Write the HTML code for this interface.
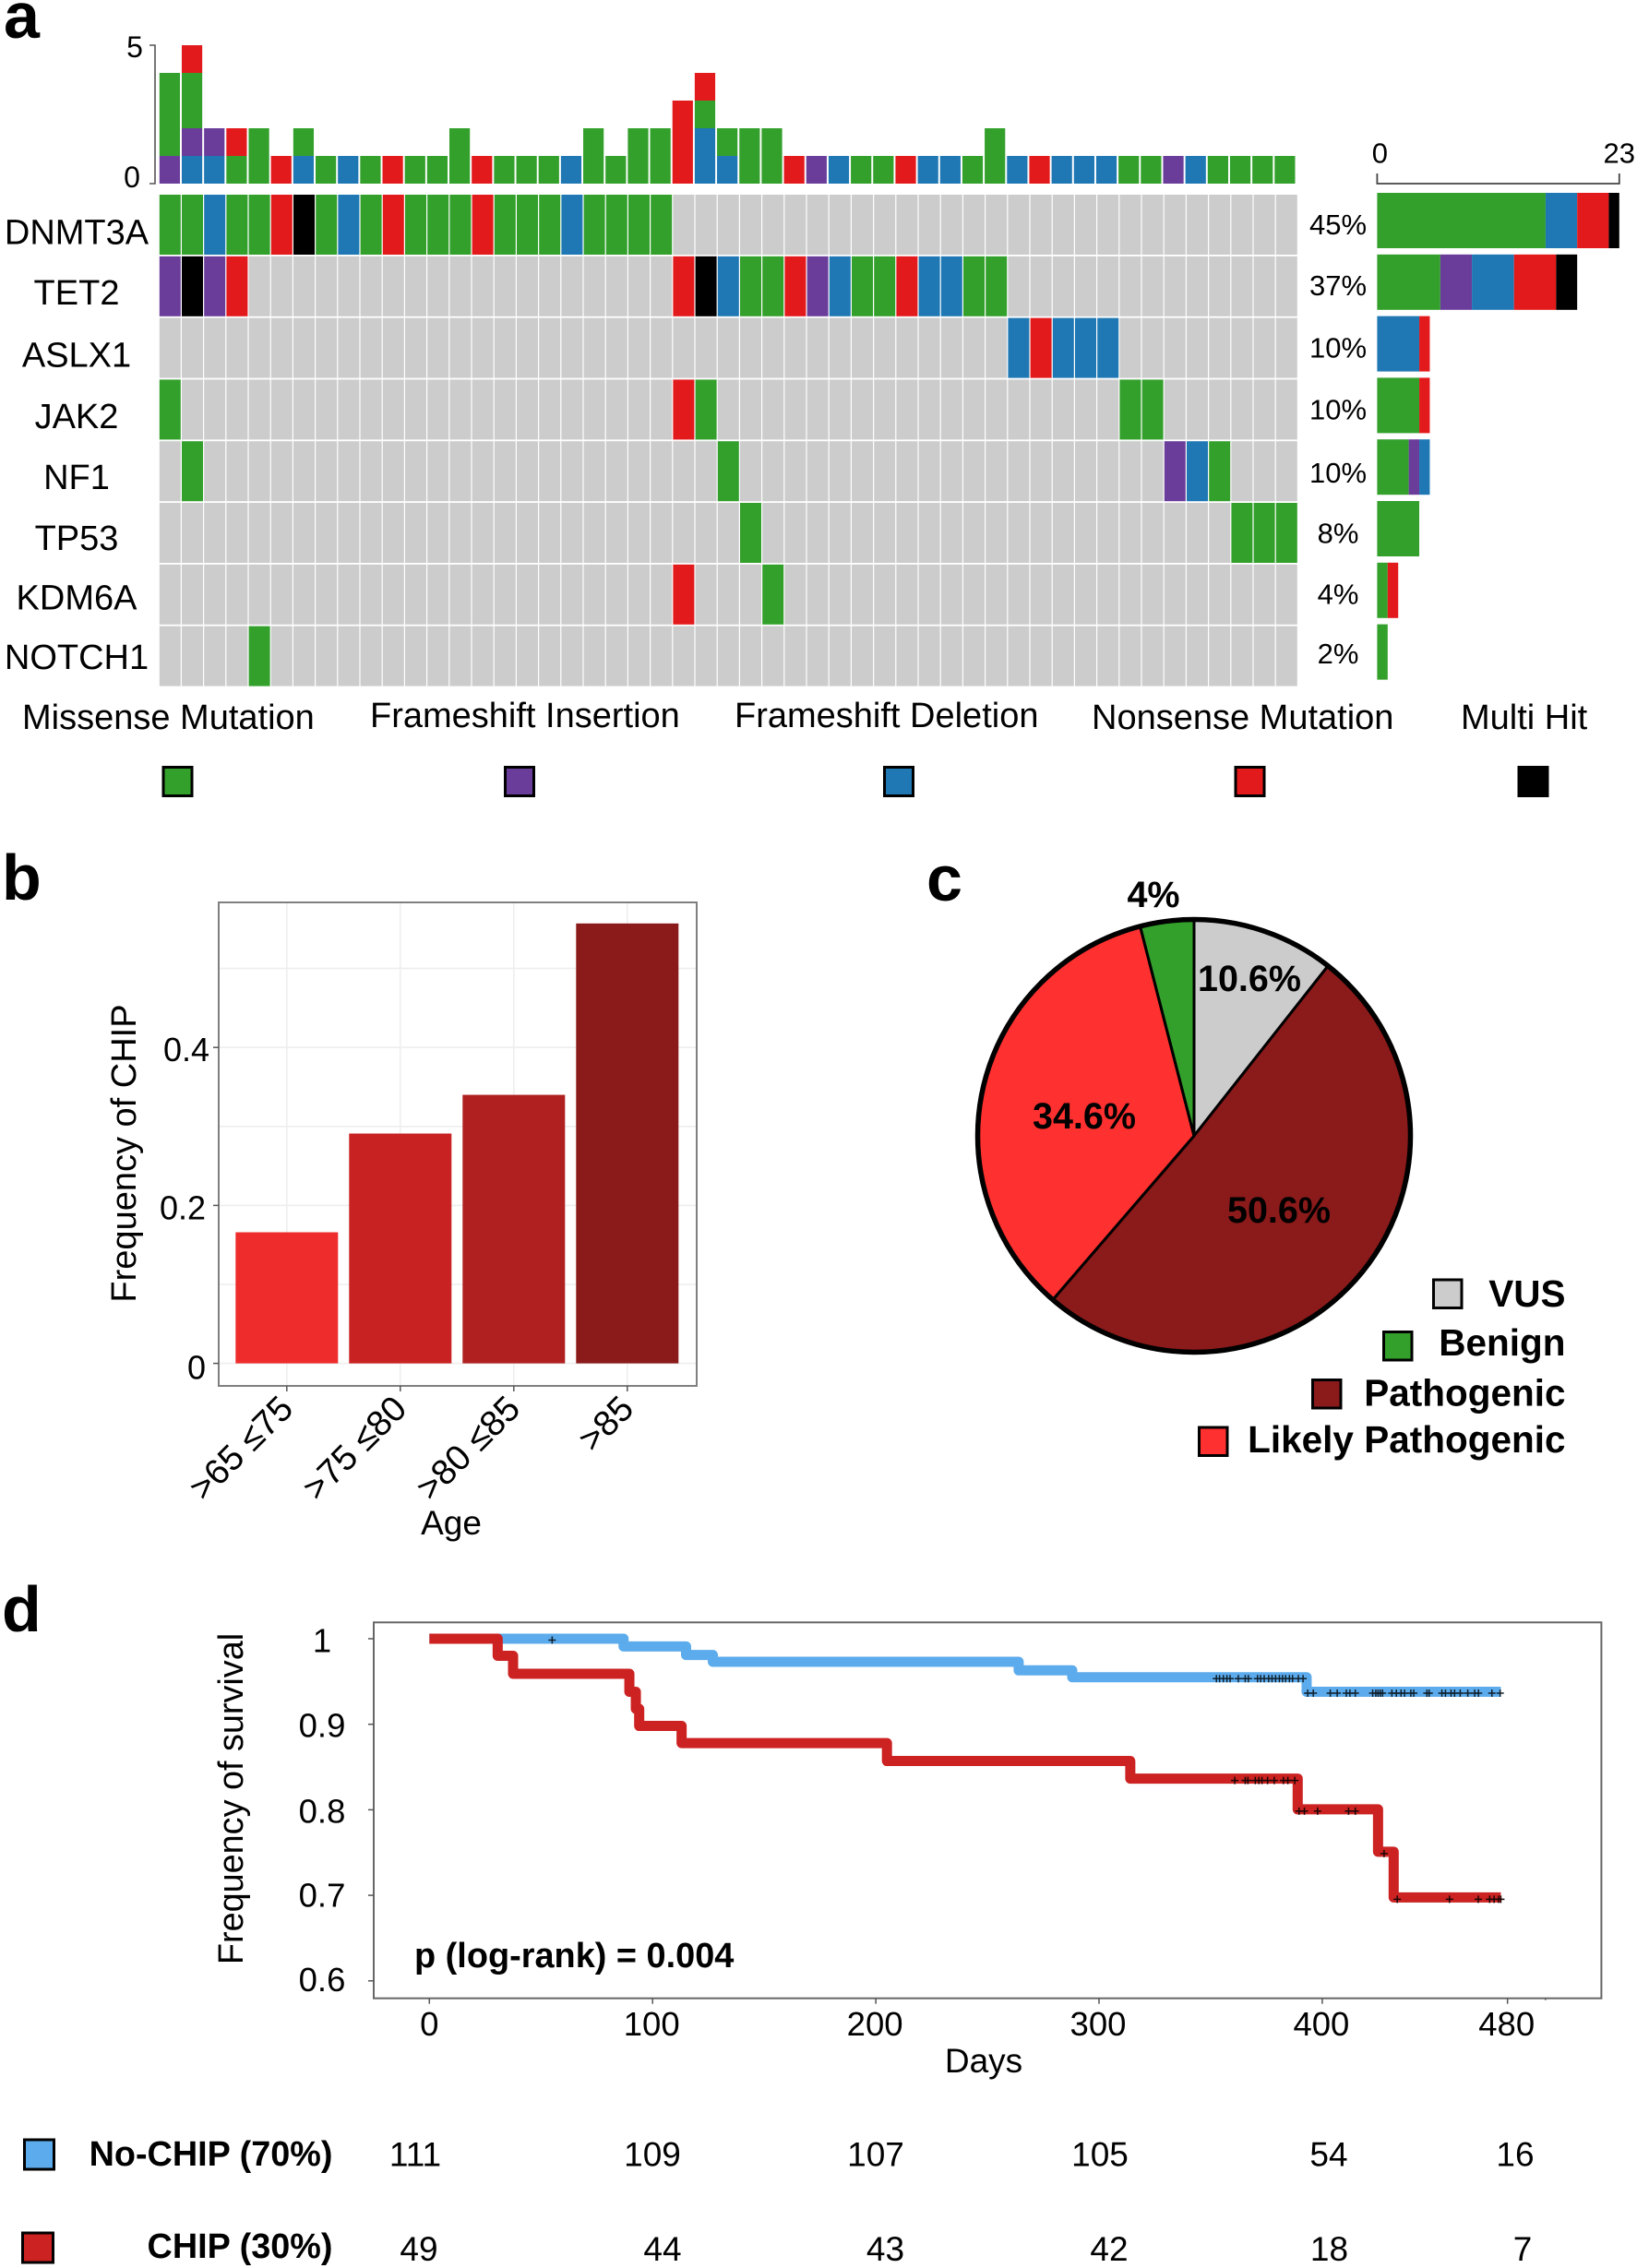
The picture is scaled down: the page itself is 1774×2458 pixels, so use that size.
<!DOCTYPE html>
<html lang="en">
<head>
<meta charset="utf-8">
<title>CHIP mutation landscape figure</title>
<style>
  html, body { margin: 0; padding: 0; background: #fff; }
  svg { display: block; }
  text { font-family: "Liberation Sans", sans-serif; fill: #000; }
  .b { font-weight: bold; }
</style>
</head>
<body>
<svg id="figure" xmlns="http://www.w3.org/2000/svg" width="1774" height="2458" viewBox="0 0 1774 2458">
  <rect x="0" y="0" width="1774" height="2458" fill="#fff"/>

  <text class="b" x="4" y="41" font-size="70">a</text>
  <text class="b" x="2" y="975" font-size="70">b</text>
  <text class="b" x="1004" y="976" font-size="70">c</text>
  <text class="b" x="2" y="1768" font-size="70">d</text>

  <g id="panel-a"></g>
  <g font-size="38">
    <text x="24" y="790">Missense Mutation</text>
    <text x="401" y="788">Frameshift Insertion</text>
    <text x="796" y="788">Frameshift Deletion</text>
    <text x="1183" y="790">Nonsense Mutation</text>
    <text x="1583" y="790">Multi Hit</text>
    <rect x="177" y="831.5" width="31" height="31" fill="#33a02c" stroke="#000" stroke-width="3"/>
    <rect x="547.5" y="831.5" width="31" height="31" fill="#6a3d9a" stroke="#000" stroke-width="3"/>
    <rect x="958.5" y="831.5" width="31" height="31" fill="#1f78b4" stroke="#000" stroke-width="3"/>
    <rect x="1339" y="831.5" width="31" height="31" fill="#e31a1c" stroke="#000" stroke-width="3"/>
    <rect x="1646" y="831.5" width="31" height="31" fill="#000" stroke="#000" stroke-width="3"/>
  </g>

  <g id="panel-b"></g>
  <text transform="translate(147 1250) rotate(-90)" text-anchor="middle" font-size="38">Frequency of CHIP</text>
  <text x="489" y="1663" text-anchor="middle" font-size="37">Age</text>

  <g id="panel-c"></g>

  <g id="panel-d"></g>
  <text transform="translate(263 1949.5) rotate(-90)" text-anchor="middle" font-size="37.8">Frequency of survival</text>
  <text x="1066" y="2246" text-anchor="middle" font-size="37">Days</text>
  <text class="b" x="449" y="2132" font-size="37.9">p (log-rank) = 0.004</text>

  <g id="risk-table"></g>
  <rect x="26.5" y="2319" width="32" height="32" fill="#5cabec" stroke="#000" stroke-width="3"/>
  <rect x="24.5" y="2420" width="33" height="32" fill="#cc2222" stroke="#000" stroke-width="3"/>
  <text class="b" x="360.5" y="2347" text-anchor="end" font-size="37.8">No-CHIP (70%)</text>
  <text class="b" x="360.5" y="2447" text-anchor="end" font-size="37.8">CHIP (30%)</text>
</svg>

<script>
/* ---------- Panel a data ---------- */
const genes = ['DNMT3A', 'TET2', 'ASLX1', 'JAK2', 'NF1', 'TP53', 'KDM6A', 'NOTCH1'];
const genePercents = ['45%', '37%', '10%', '10%', '10%', '8%', '4%', '2%'];
const hitsDNMT3A = [[0, 'GGBGGRKGBGRGGGRGGGBGGGG']];
const hitsTET2 = [[0, 'PKPR'], [23, 'RKBGGRPBGGRBBGG']];
const hitsASLX1 = [[38, 'BRBBB']];
const hitsJAK2 = [[0, 'G'], [23, 'RG'], [43, 'GG']];
const hitsNF1 = [[1, 'G'], [25, 'G'], [45, 'PBG']];
const hitsTP53 = [[26, 'G'], [48, 'GGG']];
const hitsKDM6A = [[23, 'R'], [27, 'G']];
const hitsNOTCH1 = [[4, 'G']];
const geneHits = [hitsDNMT3A, hitsTET2, hitsASLX1, hitsJAK2, hitsNF1, hitsTP53, hitsKDM6A, hitsNOTCH1];
const sampleStacks = ['PGGG','BPGGR','BP','GR','GG','R','BG','G','B','G','R','G','G','GG','R','G','G','G','B','GG','G','GG','GG','RRR','BBGR','BG','GG','GG','R','P','B','G','G','R','B','B','G','GG','B','R','B','B','B','G','G','P','B','G','G','G','G'];
const mutationOrder = ['G', 'P', 'B', 'R', 'K'];
const sideAxisTicks = [0, 23];
const sampleAxisTicks = [0, 5];

/* ---------- Panel b data ---------- */
const ageGroups = ['>65 ≤75', '>75 ≤80', '>80 ≤85', '>85'];
const chipFrequency = [0.166, 0.291, 0.34, 0.557];
const ageTicks = [0, 0.2, 0.4];
const ageGrid = [0, 0.1, 0.2, 0.3, 0.4, 0.5];

/* ---------- Panel c data ---------- */
const pieLabels = ['VUS', 'Pathogenic', 'Likely Pathogenic', 'Benign'];
const pieValues = [10.6, 50.6, 34.6, 4];

/* ---------- Panel d data ---------- */
const survivalTicks = [0.6, 0.7, 0.8, 0.9, 1];
const survivalTickLabels = ['0.6', '0.7', '0.8', '0.9', '1'];
const dayTicks = [0, 100, 200, 300, 400, 483, 500];
const dayTickLabels = ['0', '100', '200', '300', '400', '480', ''];
const noChipDays = [87, 115, 127, 264, 288, 393];
const noChipSurvival = [0.991, 0.981, 0.973, 0.963, 0.955, 0.938];
const chipDays = [30.6, 37.5, 89.6, 92.5, 94, 113, 205, 314, 389, 425, 432];
const chipSurvival = [0.98, 0.959, 0.938, 0.918, 0.898, 0.878, 0.857, 0.8365, 0.8005, 0.751, 0.6975];
const lastDay = 480;
const noChipCensorDays = [55, 352.6, 354, 355.7, 357.3, 358.7, 362.4, 365.5, 366.9, 371, 372.4, 374, 376, 377.5, 379.1, 380.8, 382.2, 383.6, 385.3, 386.7, 389.3, 391.4, 393.5, 396, 403.6, 406.7, 410.8, 412.4, 414.8, 422.6, 424, 425, 426, 427, 431.2, 433.2, 435.3, 436.9, 439.7, 441, 446.9, 447.9, 453.6, 455.2, 457.7, 459.3, 461.8, 465.2, 468.3, 470, 476, 479.7];
const chipCensorDays = [360.8, 365.5, 366.7, 370, 371.6, 373, 375.5, 378.5, 382.6, 384.6, 387.7, 389.6, 392, 397.9, 411.8, 414.8, 427.7, 433.6, 457, 469.9, 475, 477, 479, 480];
const riskColumns = [0, 100, 200, 300, 400, 480];
const riskNoChip = ['111', '109', '107', '105', '54', '16'];
const riskChip = ['49', '44', '43', '42', '18', '7'];

/* ---------- Helpers ---------- */
const NS = 'http://www.w3.org/2000/svg';
const mutationColor = { G: '#33a02c', P: '#6a3d9a', B: '#1f78b4', R: '#e31a1c', K: '#000000' };
const mutationName = { G: 'missense', P: 'frameshift-insertion', B: 'frameshift-deletion', R: 'nonsense', K: 'multi-hit' };
function mk(parent, tag, attrs, txt) {
  const el = document.createElementNS(NS, tag);
  for (const k in attrs) el.setAttribute(k, attrs[k]);
  if (txt !== undefined) el.textContent = txt;
  parent.appendChild(el);
  return el;
}

/* ---------- Panel a ---------- */
(function () {
  const g = document.getElementById('panel-a');
  const gridX = c => 172.8 + c * 24.2;
  const stackX = c => 172.8 + c * 24.17;
  const gridY = r => 211 + r * 66.8;
  const barY = n => 199 - n * 30;
  const sideX = n => 1492.4 + n * (262.4 / 23);
  const sideY = r => 209 + r * 66.8;
  const geneCenters = [251, 316.7, 384, 450.7, 516.7, 582.7, 647, 711.7];
  const percentBaselines = [254, 320, 387.5, 454.5, 523, 588.5, 654.5, 719];

  sampleStacks.forEach((stack, c) => {
    stack.split('').forEach((code, k) => {
      const el = mk(g, 'rect', { x: stackX(c), y: barY(k + 1), width: 22.2, height: barY(k) - barY(k + 1), fill: mutationColor[code] });
      
      
    });
  });

  const topAxis = mk(g, 'path', { d: 'M162 ' + barY(5) + 'H168V' + barY(0) + 'H162', fill: 'none', stroke: '#555', 'stroke-width': 1.6 });
  
  
  sampleAxisTicks.forEach(t => {
    const el = mk(g, 'text', { x: t ? 146 : 143, y: t ? barY(t) + 13 : barY(t) + 4, 'text-anchor': 'middle', 'font-size': 32 }, String(t));
    
    
  });

  genes.forEach((gene, r) => {
    const row = new Array(51).fill('.');
    geneHits[r].forEach(h => h[1].split('').forEach((code, i) => { row[h[0] + i] = code; }));

    row.forEach((code, c) => {
      const cell = mk(g, 'rect', { x: gridX(c), y: gridY(r), width: 23, height: 65, fill: code === '.' ? '#cccccc' : mutationColor[code] });
      
      
    });

    const label = mk(g, 'text', { x: 83, y: geneCenters[r] + 13.5, 'text-anchor': 'middle', 'font-size': 38 }, gene);
    
    

    const pct = mk(g, 'text', { x: 1450, y: percentBaselines[r], 'text-anchor': 'middle', 'font-size': 31 }, genePercents[r]);
    
    

    let acc = 0;
    mutationOrder.forEach(code => {
      const n = row.filter(v => v === code).length;
      if (!n) return;
      const seg = mk(g, 'rect', { x: sideX(acc), y: sideY(r), width: sideX(acc + n) - sideX(acc), height: 60, fill: mutationColor[code] });
      
      
      acc += n;
    });
  });

  const sideAxis = mk(g, 'path', { d: 'M' + sideX(0) + ' 188V199H' + sideX(23) + 'V188', fill: 'none', stroke: '#444', 'stroke-width': 1.8 });
  
  
  sideAxisTicks.forEach(t => {
    const el = mk(g, 'text', { x: sideX(t) + (t ? 0 : 3), y: 176.5, 'text-anchor': 'middle', 'font-size': 31 }, String(t));
    
    
  });
})();

/* ---------- Panel b ---------- */
(function () {
  const g = document.getElementById('panel-b');
  const x = i => 310.8 + i * 123;
  const y = v => 1477.6 - v * 856;
  const left = 237, right = 755, top = 978, bottom = 1502;

  ageGrid.forEach(v => {
    const el = mk(g, 'line', { x1: left, x2: right, y1: y(v), y2: y(v), stroke: '#eeeeee', 'stroke-width': 1.6 });
    
    
  });
  ageGroups.forEach((a, i) => {
    const el = mk(g, 'line', { x1: x(i), x2: x(i), y1: top, y2: bottom, stroke: '#eeeeee', 'stroke-width': 1.6 });
    
    
  });

  const barColors = ['#ee2c2c', '#c92222', '#b02020', '#8b1a1a'];
  chipFrequency.forEach((v, i) => {
    const el = mk(g, 'rect', { x: x(i) - 55.5, y: y(v), width: 111, height: y(0) - y(v), fill: barColors[i] });
    
    
  });

  const frame = mk(g, 'rect', { x: left, y: top, width: right - left, height: bottom - top, fill: 'none', stroke: '#7f7f7f', 'stroke-width': 2 });
  
  

  ageTicks.forEach(v => {
    const tick = mk(g, 'line', { x1: left - 6, x2: left, y1: y(v), y2: y(v), stroke: '#555', 'stroke-width': 1.5 });
    
    
    const t = mk(g, 'text', { x: v === 0.4 ? 227 : 223, y: y(v) + (v === 0 ? 17 : 15), 'text-anchor': 'end', 'font-size': 36 }, v === 0 ? '0' : v.toFixed(1));
    
    
  });

  ageGroups.forEach((a, i) => {
    const tick = mk(g, 'line', { x1: x(i), x2: x(i), y1: bottom, y2: bottom + 6, stroke: '#555', 'stroke-width': 1.5 });
    
    
    const t = mk(g, 'text', { transform: 'translate(' + (x(i) + 9) + ' 1529) rotate(-45)', 'text-anchor': 'end', 'font-size': 38.5 }, a);
    
    
  });
})();

/* ---------- Panel c ---------- */
(function () {
  const g = document.getElementById('panel-c');
  const cx = 1294, cy = 1231, r = 234.5;
  const colors = ['#cccccc', '#8b1a1a', '#ff3030', '#33a02c'];
  const labelPos = [[1354, 1074], [1386, 1325], [1175, 1223], [1250, 983]];
  const total = pieValues.reduce((a, b) => a + b, 0);
  const pt = a => [cx + r * Math.sin(a), cy - r * Math.cos(a)];
  let acc = 0;
  pieValues.forEach((v, i) => {
    const a0 = acc / total * Math.PI * 2;
    acc += v;
    const a1 = acc / total * Math.PI * 2;
    const p0 = pt(a0), p1 = pt(a1);
    const large = (a1 - a0) > Math.PI ? 1 : 0;
    const el = mk(g, 'path', {
      d: 'M' + cx + ' ' + cy + 'L' + p0[0] + ' ' + p0[1] + 'A' + r + ' ' + r + ' 0 ' + large + ' 1 ' + p1[0] + ' ' + p1[1] + 'Z',
      fill: colors[i], stroke: '#000', 'stroke-width': 3
    });
    
    
  });
  const ring = mk(g, 'circle', { cx: cx, cy: cy, r: r, fill: 'none', stroke: '#000', 'stroke-width': 5.5 });
  
  
  pieValues.forEach((v, i) => {
    const t = mk(g, 'text', { x: labelPos[i][0], y: labelPos[i][1], 'text-anchor': 'middle', 'font-size': 39.5, 'font-weight': 'bold' }, v + '%');
    
    
  });
  const legendOrder = [0, 3, 1, 2];
  const legendBase = [1416, 1469, 1523.5, 1574];
  const legendSwatchX = [1553.5, 1499.5, 1422.5, 1299.5];
  const legendSwatchY = [1387, 1443.5, 1495.5, 1547];
  legendOrder.forEach((idx, k) => {
    const s = mk(g, 'rect', { x: legendSwatchX[k], y: legendSwatchY[k], width: 30.5, height: 30.5, fill: colors[idx], stroke: '#000', 'stroke-width': 3 });
    
    
    const t = mk(g, 'text', { x: 1696.5, y: legendBase[k], 'text-anchor': 'end', 'font-size': 40.5, 'font-weight': 'bold' }, pieLabels[idx]);
    
    
  });
})();

/* ---------- Panel d ---------- */
(function () {
  const g = document.getElementById('panel-d');
  const x = d => 465.3 + d * 2.419;
  const y = s => 1776 + (1 - s) * 927;
  const left = 405, right = 1735.4, top = 1758.3, bottom = 2165.7;
  const labelNudge = [-2, -0.5, 1, 1, 1.5];

  const frame = mk(g, 'rect', { x: left, y: top, width: right - left, height: bottom - top, fill: 'none', stroke: '#666', 'stroke-width': 2 });
  
  

  survivalTicks.forEach((s, i) => {
    const tick = mk(g, 'line', { x1: left - 6, x2: left, y1: y(s), y2: y(s), stroke: '#555', 'stroke-width': 1.5 });
    
    
    const t = mk(g, 'text', { x: 349, y: y(s) + 13 + labelNudge[i], 'text-anchor': 'middle', 'font-size': 36.5 }, survivalTickLabels[i]);
    
    
  });

  dayTicks.forEach((d, i) => {
    const tick = mk(g, 'line', { x1: x(d), x2: x(d), y1: bottom, y2: bottom + (dayTickLabels[i] ? 6 : 2), stroke: '#555', 'stroke-width': 1.5 });
    
    
    if (dayTickLabels[i]) {
      const t = mk(g, 'text', { x: x(d) - (d === 0 ? 0 : 1), y: 2206, 'text-anchor': 'middle', 'font-size': 36.5 }, dayTickLabels[i]);
      
      
    }
  });

  function stepPath(days, surv) {
    let d = 'M' + x(0) + ' ' + y(1);
    days.forEach((day, i) => { d += 'H' + x(day) + 'V' + y(surv[i]); });
    return d + 'H' + x(lastDay);
  }
  function survAt(day, days, surv) {
    let s = 1;
    days.forEach((dd, i) => { if (day >= dd) s = surv[i]; });
    return s;
  }

  const blue = mk(g, 'path', { d: stepPath(noChipDays, noChipSurvival), fill: 'none', stroke: '#5cabec', 'stroke-width': 11, 'stroke-linejoin': 'round' });
  
  
  const red = mk(g, 'path', { d: stepPath(chipDays, chipSurvival), fill: 'none', stroke: '#cc2222', 'stroke-width': 11, 'stroke-linejoin': 'round' });
  
  

  function plus(cxv, cyv) {
    return 'M' + (cxv - 4) + ' ' + cyv + 'H' + (cxv + 4) + 'M' + cxv + ' ' + (cyv - 4) + 'V' + (cyv + 4);
  }
  noChipCensorDays.forEach(d => {
    const m = mk(g, 'path', { d: plus(x(d), y(survAt(d, noChipDays, noChipSurvival)) + 1.5), stroke: '#10202c', 'stroke-width': 1.5, fill: 'none' });
    
    
  });
  chipCensorDays.forEach(d => {
    const m = mk(g, 'path', { d: plus(x(d), y(survAt(d, chipDays, chipSurvival)) + 2), stroke: '#1a0505', 'stroke-width': 1.5, fill: 'none' });
    
    
  });
})();

/* ---------- Number at risk table ---------- */
(function () {
  const g = document.getElementById('risk-table');
  const noChipX = [450, 707, 949, 1192, 1440, 1642];
  const chipX = [454, 718, 959.5, 1202, 1440.5, 1650];
  riskColumns.forEach((c, i) => {
    const a = mk(g, 'text', { x: noChipX[i], y: 2347.5, 'text-anchor': 'middle', 'font-size': 37 }, riskNoChip[i]);
    
    
    const b = mk(g, 'text', { x: chipX[i], y: 2450, 'text-anchor': 'middle', 'font-size': 37 }, riskChip[i]);
    
    
  });
})();
</script>
</body>
</html>
